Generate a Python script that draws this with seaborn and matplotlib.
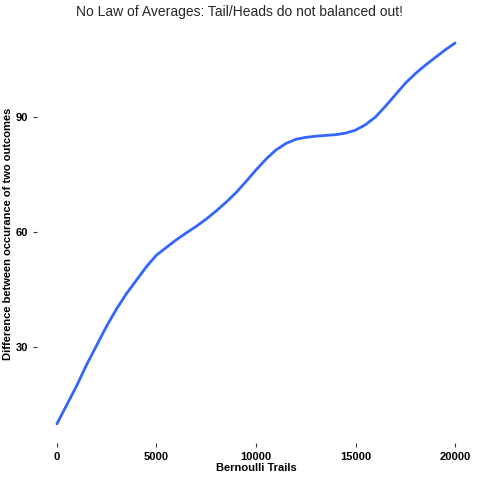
import matplotlib
matplotlib.use("Agg")
import matplotlib.pyplot as plt
import seaborn as sns
import pandas as pd

trials = [0,500,1000,1500,2000,2500,3000,3500,4000,4500,5000,5500,6000,6500,7000,7500,8000,8500,9000,9500,10000,
          10500,11000,11500,12000,12500,13000,13500,14000,14500,15000,15500,16000,16500,17000,17500,18000,18500,19000,19500,20000]
diff = [10,15,20,25.5,30.5,35.5,40,44,47.5,51,54,56,58,59.8,61.5,63.4,65.5,67.8,70.3,73.2,76.2,
        79,81.4,83.1,84.2,84.7,85,85.2,85.4,85.8,86.6,88,90,92.8,95.8,98.8,101.3,103.5,105.5,107.5,109.3]
df = pd.DataFrame({"x": trials, "y": diff})

sns.set_style("white")
plt.rcParams['font.family'] = ['Liberation Sans', 'DejaVu Sans']
fig = plt.figure(figsize=(4.8, 4.8), dpi=100)
ax = fig.add_axes([37/480, 1-443/480, (475-37)/480, (443-25)/480])
sns.lineplot(data=df, x="x", y="y", color="#3366FF", lw=2.0, ax=ax)
ax.set_xlim(-1000, 21000)
ax.set_ylim(5, 114)
ax.set_xticks([0, 5000, 10000, 15000, 20000])
ax.set_yticks([30, 60, 90])
for s in ax.spines.values():
    s.set_visible(False)
ax.tick_params(bottom=True, left=True, length=3, color="#333333", labelsize=8, labelcolor="black")
for t in ax.get_xticklabels() + ax.get_yticklabels():
    t.set_fontweight("bold")
ax.set_xlabel("Bernoulli Trails", fontsize=8, fontweight="bold", labelpad=1, color="black")
ax.set_ylabel("Difference between occurance of two outcomes", fontsize=8, fontweight="bold", labelpad=2, color="black")
fig.suptitle("No Law of Averages: Tail/Heads do not balanced out!", fontsize=10, y=0.99)
fig.savefig("out.png", dpi=100)
